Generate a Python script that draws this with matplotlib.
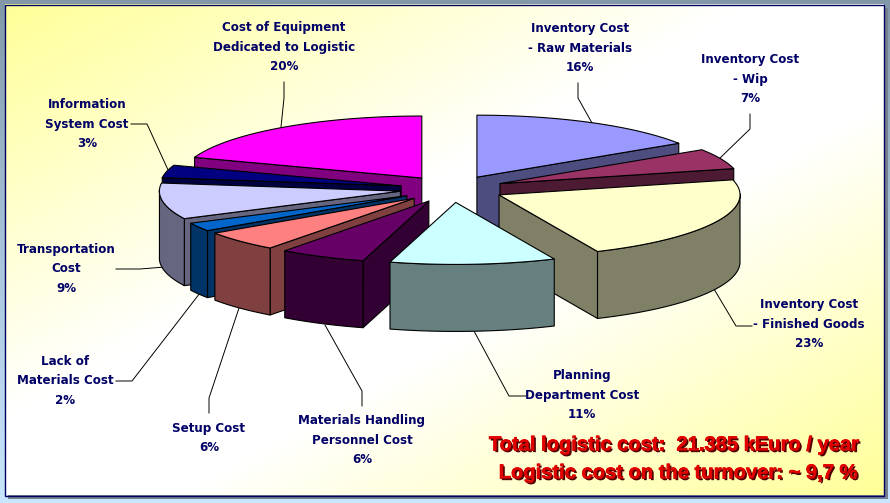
import numpy as np
import matplotlib
matplotlib.use("Agg")
import matplotlib.pyplot as plt
import matplotlib.patheffects as pe
from matplotlib.patches import Polygon, Rectangle
from matplotlib.colors import LinearSegmentedColormap

categories = ["Inventory Cost\n- Raw Materials", "Inventory Cost\n- Wip", "Inventory Cost\n- Finished Goods",
              "Planning\nDepartment Cost", "Materials Handling\nPersonnel Cost", "Setup Cost",
              "Lack of\nMaterials Cost", "Transportation\nCost", "Information\nSystem Cost",
              "Cost of Equipment\nDedicated to Logistic"]
label_pct = [16, 7, 23, 11, 6, 6, 2, 9, 3, 20]
drawn_share = [15.8, 5.3, 22.2, 11.1, 5.8, 5.3, 2.2, 9.4, 3.3, 19.6]
top_colors = ["#9999FF", "#993366", "#FFFFCC", "#CCFFFF", "#660066", "#FF8080", "#0066CC", "#CCCCFF", "#000080", "#FF00FF"]
side_colors = ["#4D4D80", "#4D1A33", "#808066", "#668080", "#330033", "#804040", "#003366", "#666680", "#000040", "#800080"]

label_xy = [(580, 48), (750, 79), (809, 324), (582, 395), (362, 440), (209, 438), (65, 381), (66, 269), (87, 124), (284, 47)]
leaders = [[(578, 83), (578, 98), (592, 123)],
           [(750, 114), (750, 129), (719, 159)],
           [(752, 326), (736, 326), (714, 289)],
           [(526, 396), (509, 396), (474, 331)],
           [(362, 406), (362, 391), (325, 325)],
           [(209, 413), (209, 398), (239, 308)],
           [(116, 381), (132, 381), (200, 293)],
           [(116, 269), (140, 269), (165, 267)],
           [(131, 124), (147, 124), (169, 172)],
           [(284, 82), (284, 98), (281, 127)]]

CX, CY, RX, RY, EXPLODE, DEPTH = 452, 189, 241, 62, 0.217, 67
W, H = 890, 503

fig = plt.figure(figsize=(W / 100, H / 100), dpi=100)
ax = fig.add_axes([0, 0, 1, 1])
ax.axis("off")

# outer band
outer = np.linspace(0, 1, H)[:, None]
cm_o = LinearSegmentedColormap.from_list("o", ["#8298A8", "#A8C4DA", "#C8E6FF"])
ax.imshow(outer, extent=(0, W, H, 0), cmap=cm_o, aspect="auto", zorder=0)
ax.add_patch(Rectangle((8, 8), 880, 491, fc="#77808F", ec="none", zorder=0.5))
# panel diagonal gradient
px0, py0, px1, py1 = 4.5, 4.5, 883.5, 495.5
xx, yy = np.meshgrid(np.linspace(0, 1, 300), np.linspace(0, 1, 200))
t = (xx + yy) / 2
cm_p = LinearSegmentedColormap.from_list("p", [(0, "#FFFF99"), (0.42, "#FFFFFF"), (0.6, "#FFFFFF"), (1, "#FFFF99")])
ax.imshow(t, extent=(px0, px1, py1, py0), cmap=cm_p, aspect="auto", zorder=1, vmin=0, vmax=1)
ax.add_patch(Rectangle((px0, py0), px1 - px0, py1 - py0, fc="none", ec="#000060", lw=1.0, zorder=1.5))
ax.set_xlim(0, W)
ax.set_ylim(H, 0)

# leaders
for pts in leaders:
    xs, ys = zip(*pts)
    ax.plot(xs, ys, color="black", lw=0.7, zorder=2, solid_joinstyle="round")

# pie
total = sum(drawn_share)
edges = np.cumsum([0] + drawn_share) / total * 2 * np.pi
slices = []
for i in range(len(drawn_share)):
    mid = (edges[i] + edges[i + 1]) / 2
    apex_x = CX + EXPLODE * RX * np.sin(mid)
    apex_y = CY - EXPLODE * RY * np.cos(mid)
    slices.append((apex_y, i, apex_x))

z = 3
for apex_y, i, apex_x in sorted(slices):
    a0, a1 = edges[i], edges[i + 1]
    th = np.linspace(a0, a1, 80)
    ox = apex_x + RX * np.sin(th)
    oy = apex_y - RY * np.cos(th)
    kw = dict(ec="black", lw=0.8, joinstyle="round")
    # radial faces that look towards the viewer
    faces = []
    if np.sin(a0) < -1e-6:
        faces.append(0)
    if np.sin(a1) > 1e-6:
        faces.append(-1)
    for k in faces:
        ax.add_patch(Polygon([(apex_x, apex_y), (ox[k], oy[k]), (ox[k], oy[k] + DEPTH), (apex_x, apex_y + DEPTH)],
                             fc=side_colors[i], zorder=z, **kw))
    # outer wall (front-facing part)
    front = np.cos(th) < 0.02
    lo = th[front]
    if len(lo) > 1:
        fx = apex_x + RX * np.sin(lo)
        fy = apex_y - RY * np.cos(lo)
        wall = np.vstack([np.c_[fx, fy], np.c_[fx[::-1], fy[::-1] + DEPTH]])
        ax.add_patch(Polygon(wall, fc=side_colors[i], zorder=z, **kw))
    ax.add_patch(Polygon(np.vstack([[apex_x, apex_y], np.c_[ox, oy]]), fc=top_colors[i], zorder=z, **kw))
    z += 0.1

# labels
navy = "#000066"
for name, pct, (lx, ly) in zip(categories, label_pct, label_xy):
    ax.text(lx, ly, f"{name}\n{pct}%", ha="center", va="center", color=navy, fontsize=8.6,
            family="DejaVu Sans", weight="bold", linespacing=1.68, zorder=10)

shadow = [pe.withStroke(linewidth=0.7, foreground="#E00000"),
          pe.SimplePatchShadow(offset=(1.2, -1.2), shadow_rgbFace="#500000", alpha=1.0), pe.Normal()]
for s, x, y in [("Total logistic cost:  21.385 kEuro / year", 674, 445),
                ("Logistic cost on the turnover: ~ 9,7 %", 678, 473)]:
    ax.text(x, y, s, ha="center", va="center", color="#E00000", fontsize=14.5, weight="bold",
            family="Liberation Sans", path_effects=shadow, zorder=10)

fig.savefig("out.png", dpi=100)
